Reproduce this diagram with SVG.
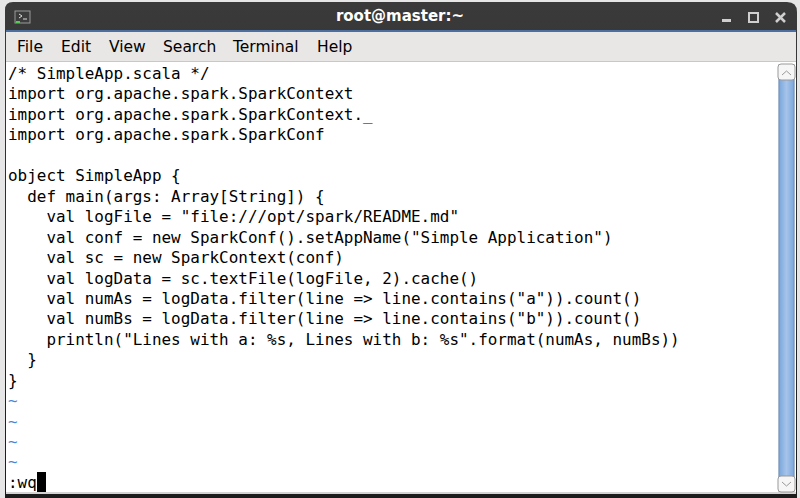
<svg xmlns="http://www.w3.org/2000/svg" width="800" height="498" viewBox="0 0 800 498">
<defs>
<linearGradient id="tb" x1="0" y1="0" x2="0" y2="1"><stop offset="0" stop-color="#3a3a3a"/><stop offset="1" stop-color="#1c1c1c"/></linearGradient>
<linearGradient id="th" x1="0" y1="0" x2="1" y2="0"><stop offset="0" stop-color="#7aa6dc"/><stop offset="0.5" stop-color="#a6c4ea"/><stop offset="1" stop-color="#7aa6dc"/></linearGradient>
</defs>
<style>
.code{font-family:"DejaVu Sans Mono",monospace;font-size:15.95px;fill:#000;white-space:pre}
.tl{fill:#4a86d4}
.menu{font-family:"DejaVu Sans",sans-serif;font-size:15.5px;fill:#000}
</style>
<rect width="800" height="498" fill="#e6e6e6"/>
<g id="window">
<path d="M5 498 V10 Q5 2 13 2 H787 Q797 2 797 12 V498 Z" fill="url(#tb)"/>
<text x="400" y="21" text-anchor="middle" font-family="DejaVu Sans,sans-serif" font-size="15" font-weight="bold" fill="#ffffff">root@master:~</text>
<rect x="15" y="11" width="15" height="12" fill="#3c3c3c" stroke="#9a9a9a"/>
<path d="M19 14 l3 2 l-3 2 M23 19 h4" stroke="#ddd" fill="none"/>
<rect x="16" y="21" width="4" height="2" fill="#5c5"/>
<rect x="722" y="19" width="9" height="3" fill="#cfcfcf"/>
<rect x="749" y="13" width="9" height="9" fill="none" stroke="#cfcfcf" stroke-width="2"/>
<path d="M776 13 l9 9 M785 13 l-9 9" stroke="#cfcfcf" stroke-width="2.5"/>
<rect x="6" y="30" width="790" height="2" fill="#4a6fa0"/>
<rect x="6" y="32" width="790" height="29" fill="#e8e7e5"/>
<rect x="6" y="61" width="790" height="1" fill="#c8c8c8"/>
<rect x="6" y="62" width="790" height="431" fill="#ffffff"/>
<rect x="6" y="492" width="790" height="2" fill="#d4d4d4"/>
</g>
<g id="menu">
<text class="menu" x="17" y="52">File</text>
<text class="menu" x="61" y="52">Edit</text>
<text class="menu" x="109" y="52">View</text>
<text class="menu" x="163" y="52">Search</text>
<text class="menu" x="233" y="52">Terminal</text>
<text class="menu" x="317" y="52">Help</text>
</g>
<g id="scrollbar">
<rect x="778" y="64" width="17" height="428" fill="#dcdcdc"/>
<rect x="779" y="79" width="15" height="398" fill="url(#th)" stroke="#6e93c4"/>
<rect x="778" y="64" width="17" height="16" rx="3" fill="#f6f6f6" stroke="#999"/>
<path d="M782 75 l4.5 -4 l4.5 4" stroke="#999" fill="none"/>
<rect x="778" y="476" width="17" height="16" rx="3" fill="#f6f6f6" stroke="#999"/>
<path d="M782 482 l4.5 4 l4.5 -4" stroke="#999" fill="none"/>
</g>
<g id="code">
<text class="code" x="8" y="79">/* SimpleApp.scala */</text>
<text class="code" x="8" y="99">import org.apache.spark.SparkContext</text>
<text class="code" x="8" y="120">import org.apache.spark.SparkContext._</text>
<text class="code" x="8" y="140">import org.apache.spark.SparkConf</text>
<text class="code" x="8" y="181">object SimpleApp {</text>
<text class="code" x="8" y="202">  def main(args: Array[String]) {</text>
<text class="code" x="8" y="222">    val logFile = "file:///opt/spark/README.md"</text>
<text class="code" x="8" y="243">    val conf = new SparkConf().setAppName("Simple Application")</text>
<text class="code" x="8" y="263">    val sc = new SparkContext(conf)</text>
<text class="code" x="8" y="284">    val logData = sc.textFile(logFile, 2).cache()</text>
<text class="code" x="8" y="304">    val numAs = logData.filter(line =&gt; line.contains("a")).count()</text>
<text class="code" x="8" y="324">    val numBs = logData.filter(line =&gt; line.contains("b")).count()</text>
<text class="code" x="8" y="345">    println("Lines with a: %s, Lines with b: %s".format(numAs, numBs))</text>
<text class="code" x="8" y="365">  }</text>
<text class="code" x="8" y="386">}</text>
<text class="code tl" x="8" y="406">~</text>
<text class="code tl" x="8" y="427">~</text>
<text class="code tl" x="8" y="447">~</text>
<text class="code tl" x="8" y="467">~</text>
<text class="code" x="8" y="488">:wq</text>
<rect x="37" y="472" width="9" height="20" fill="#000"/>
</g>
</svg>
